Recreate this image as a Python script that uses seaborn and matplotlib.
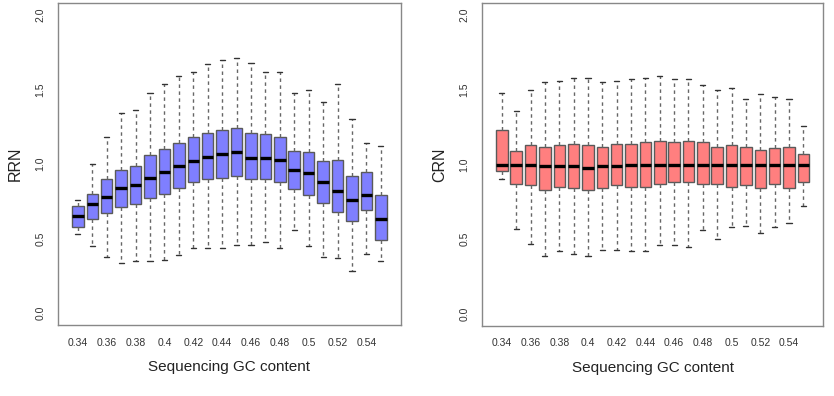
import numpy as np
import pandas as pd
import matplotlib
matplotlib.use("Agg")
import matplotlib.pyplot as plt
import seaborn as sns

# GC content bins (one box per bin)
gc_bins = ["0.34", "0.35", "0.36", "0.37", "0.38", "0.39", "0.4", "0.41", "0.42", "0.43", "0.44",
           "0.45", "0.46", "0.47", "0.48", "0.49", "0.5", "0.51", "0.52", "0.53", "0.54", "0.55"]

# RRN box stats
rrn_low = [0.53, 0.45, 0.38, 0.34, 0.35, 0.35, 0.36, 0.39, 0.44, 0.44, 0.44,
           0.46, 0.46, 0.48, 0.44, 0.56, 0.45, 0.38, 0.37, 0.28, 0.40, 0.35]
rrn_q1 = [0.58, 0.63, 0.67, 0.71, 0.73, 0.77, 0.80, 0.84, 0.88, 0.90, 0.91,
          0.92, 0.90, 0.90, 0.88, 0.83, 0.79, 0.74, 0.68, 0.62, 0.69, 0.49]
rrn_med = [0.65, 0.73, 0.78, 0.84, 0.86, 0.91, 0.95, 0.99, 1.02, 1.05, 1.07,
           1.08, 1.04, 1.04, 1.03, 0.96, 0.94, 0.88, 0.82, 0.76, 0.79, 0.63]
rrn_q3 = [0.72, 0.80, 0.90, 0.96, 0.99, 1.06, 1.10, 1.14, 1.18, 1.21, 1.23,
          1.24, 1.21, 1.20, 1.18, 1.09, 1.08, 1.02, 1.03, 0.92, 0.95, 0.79]
rrn_high = [0.76, 1.00, 1.18, 1.34, 1.36, 1.48, 1.54, 1.59, 1.62, 1.67, 1.70,
            1.71, 1.68, 1.62, 1.62, 1.48, 1.50, 1.42, 1.54, 1.30, 1.14, 1.12]

# CRN box stats
crn_low = [0.90, 0.57, 0.47, 0.39, 0.42, 0.40, 0.39, 0.43, 0.43, 0.42, 0.42,
           0.46, 0.46, 0.45, 0.56, 0.50, 0.58, 0.59, 0.54, 0.58, 0.61, 0.72]
crn_q1 = [0.96, 0.87, 0.86, 0.83, 0.85, 0.84, 0.83, 0.84, 0.86, 0.85, 0.85,
          0.87, 0.88, 0.88, 0.87, 0.87, 0.85, 0.86, 0.84, 0.87, 0.84, 0.88]
crn_med = [1.00, 1.00, 1.00, 0.99, 0.99, 0.99, 0.98, 0.99, 0.99, 1.00, 1.00,
           1.00, 1.00, 1.00, 1.00, 1.00, 1.00, 1.00, 1.00, 1.00, 1.00, 1.00]
crn_q3 = [1.23, 1.09, 1.13, 1.12, 1.13, 1.14, 1.13, 1.12, 1.14, 1.14, 1.15,
          1.16, 1.15, 1.16, 1.15, 1.12, 1.13, 1.12, 1.10, 1.11, 1.12, 1.07]
crn_high = [1.48, 1.36, 1.50, 1.55, 1.56, 1.58, 1.58, 1.55, 1.56, 1.57, 1.58,
            1.59, 1.57, 1.57, 1.53, 1.50, 1.51, 1.44, 1.47, 1.45, 1.44, 1.26]


def long_form(low, q1, med, q3, high):
    # five points per bin reproduce exactly these quartiles and extremes
    rows = []
    for i, g in enumerate(gc_bins):
        for v in (low[i], q1[i], med[i], q3[i], high[i]):
            rows.append({"gc": g, "value": v})
    return pd.DataFrame(rows)


sns.set_style("white")
plt.rcParams["font.family"] = ["Liberation Sans", "DejaVu Sans"]

fig = plt.figure(figsize=(8.34, 3.96), dpi=100)
ax1 = fig.add_axes([0.0695, 0.179, 0.411, 0.813])
ax2 = fig.add_axes([0.578, 0.177, 0.409, 0.815])

panels = [
    (ax1, long_form(rrn_low, rrn_q1, rrn_med, rrn_q3, rrn_high), "#7f7fff", "RRN"),
    (ax2, long_form(crn_low, crn_q1, crn_med, crn_q3, crn_high), "#ff7f7f", "CRN"),
]

for ax, df, fill, ylab in panels:
    sns.boxplot(data=df, x="gc", y="value", order=gc_bins, ax=ax,
                color=fill, saturation=1, width=0.8, whis=(0, 100),
                linecolor="#5a5a5a", linewidth=1,
                medianprops={"color": "black", "linewidth": 2.4},
                whiskerprops={"color": "#666666", "linestyle": (0, (2.5, 2.5)), "linewidth": 1},
                capprops={"color": "#333333", "linewidth": 1},
                capwidths=0.35)
    ax.set_xlim(-1.38, 22.38)
    ax.set_ylim(-0.08, 2.08)
    ax.set_yticks([0.0, 0.5, 1.0, 1.5, 2.0])
    ax.set_yticklabels(["0.0", "0.5", "1.0", "1.5", "2.0"], rotation=90, va="center")
    ax.set_xticks(range(len(gc_bins)))
    ax.set_xticklabels([gc_bins[i] if i % 2 == 0 else "" for i in range(len(gc_bins))])
    ax.tick_params(direction="out", length=5, width=0.8, color="#555555",
                   labelsize=7.5, labelcolor="#333333", pad=4)
    ax.tick_params(axis="y", pad=4)
    ax.set_xlabel("Sequencing GC content", fontsize=11, color="#222222", labelpad=9)
    ax.set_ylabel(ylab, fontsize=11.5, color="#222222", labelpad=9)
    for s in ax.spines.values():
        s.set_color("#888888")
        s.set_linewidth(1)
        s.set_visible(True)

fig.savefig("out.png", dpi=100)
